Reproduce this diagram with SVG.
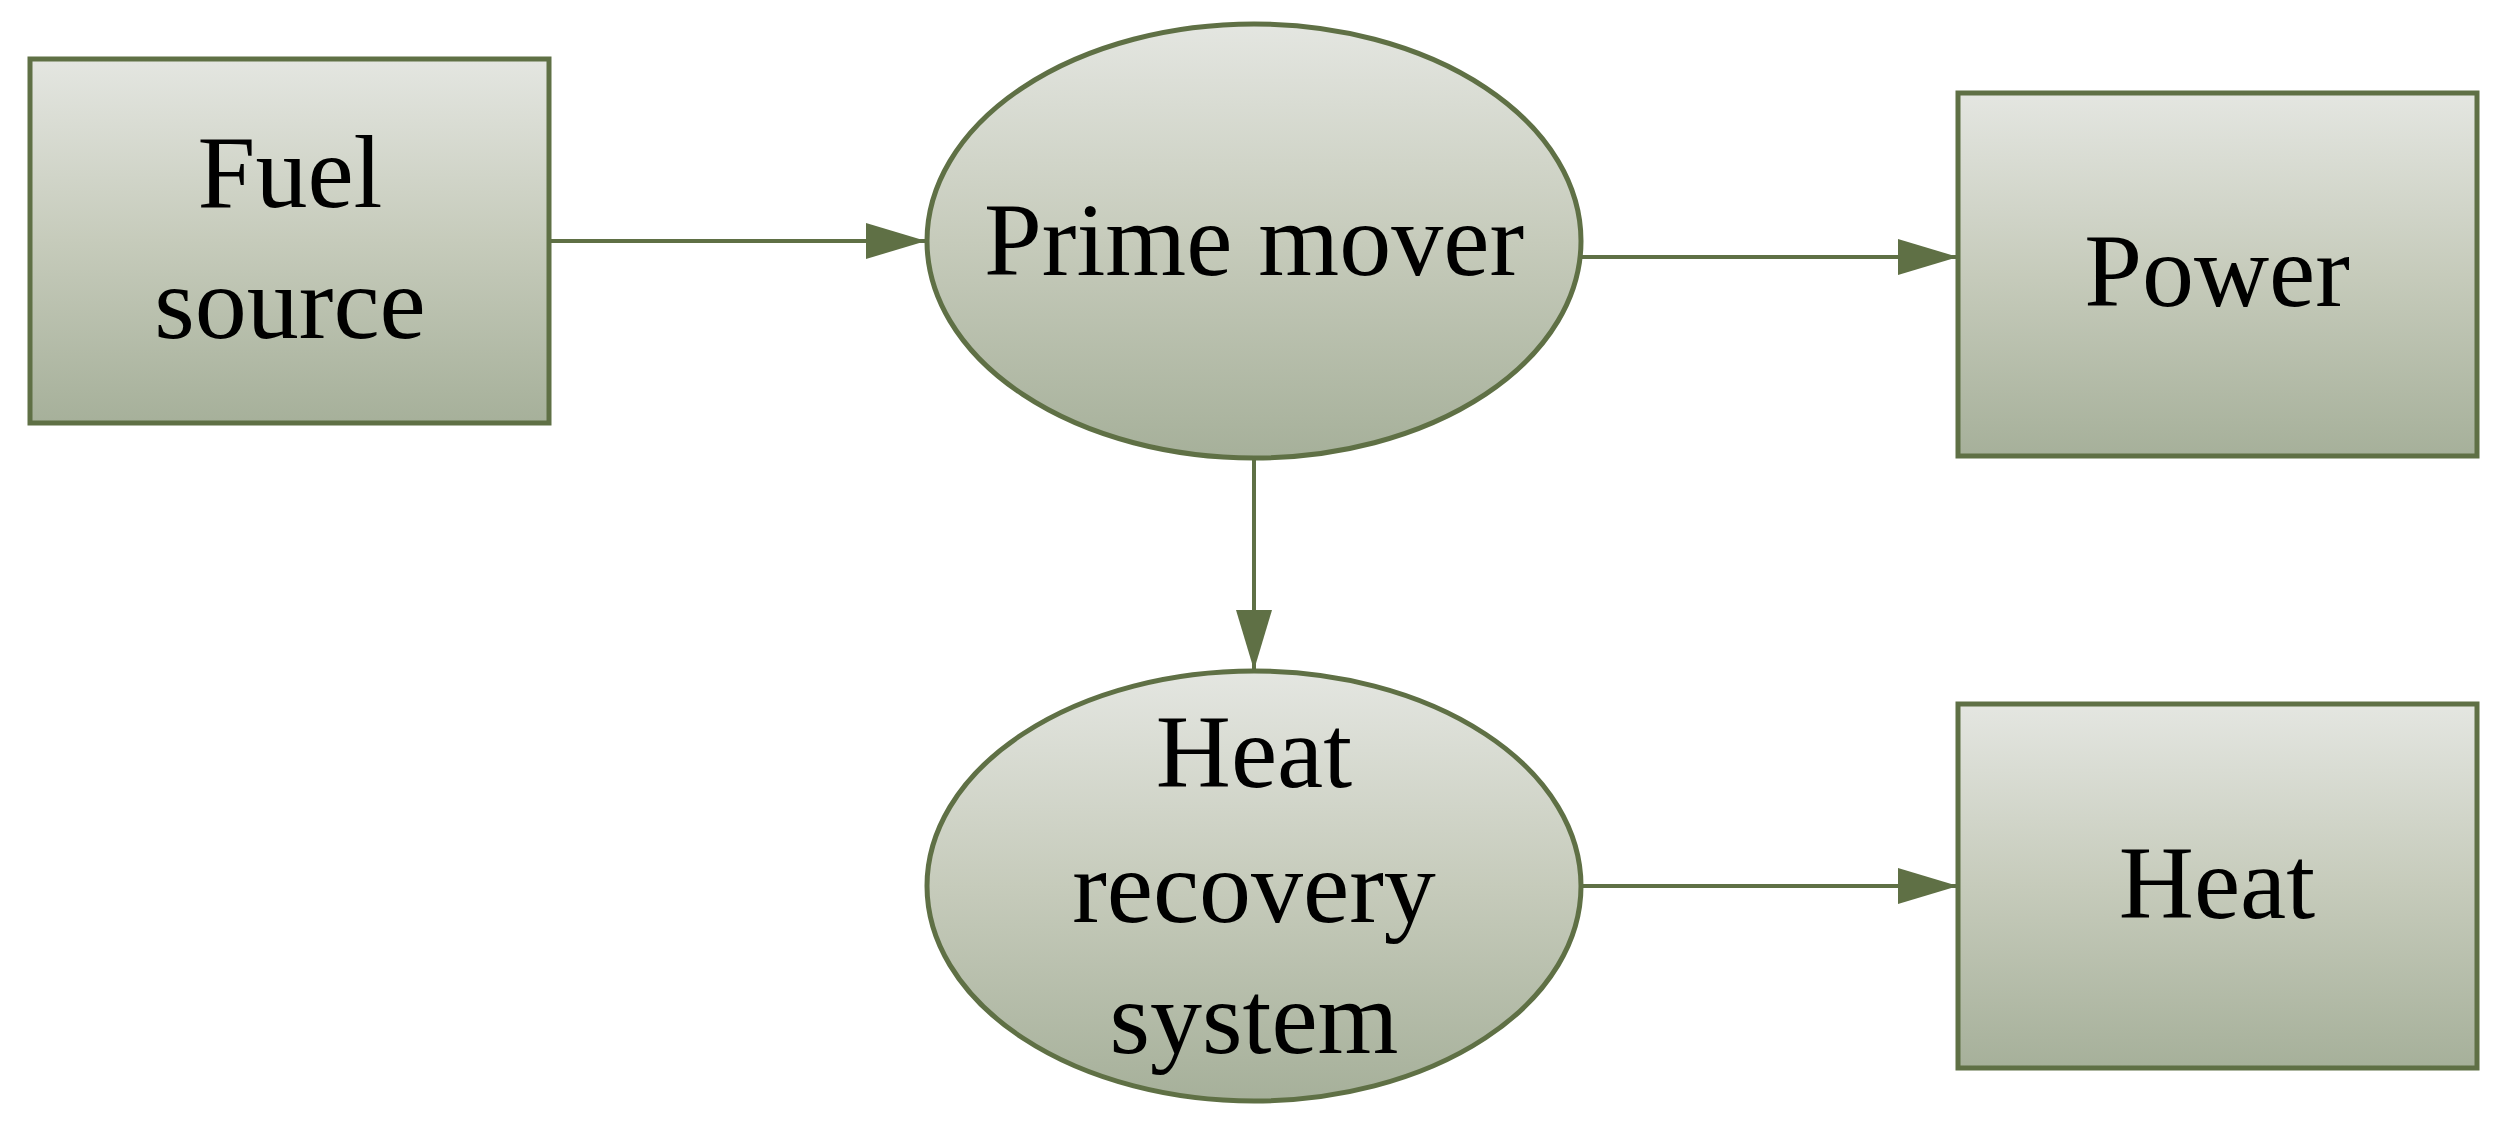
<svg xmlns="http://www.w3.org/2000/svg" width="2502" height="1128" viewBox="0 0 2502 1128">
<defs>
<linearGradient id="g" x1="0" y1="0" x2="0" y2="1">
<stop offset="0" stop-color="#e4e6e1"/>
<stop offset="0.5" stop-color="#c6cbbb"/>
<stop offset="1" stop-color="#a6b09a"/>
</linearGradient>
<marker id="ah" viewBox="0 0 10 10" refX="10" refY="5" markerWidth="10" markerHeight="10" markerUnits="userSpaceOnUse" orient="auto">
<path d="M0,0 L10,5 L0,10 z" fill="#5f7045"/>
</marker>
<marker id="a" viewBox="0 0 60 60" refX="60" refY="30" markerWidth="60" markerHeight="60" markerUnits="userSpaceOnUse" orient="auto">
<path d="M0,12 L60,30 L0,48 z" fill="#5f7045"/>
</marker>
</defs>
<style>
.n{fill:url(#g);stroke:#5f7045;stroke-width:5}
.t{font-family:"Liberation Serif","Times New Roman",serif;font-size:104px;fill:#000;text-anchor:middle}
.c{stroke:#5f7045;stroke-width:4;fill:none;marker-end:url(#a)}
</style>
<rect width="2502" height="1128" fill="#fff"/>
<g id="connectors">
<line class="c" x1="549" y1="241" x2="926" y2="241"/>
<line class="c" x1="1582" y1="257" x2="1958" y2="257"/>
<line class="c" x1="1254" y1="458" x2="1254" y2="670"/>
<line class="c" x1="1582" y1="886" x2="1958" y2="886"/>
</g>
<g id="fuel"><rect class="n" x="30" y="59" width="519" height="364"/>
<text class="t" x="290" y="207">Fuel</text><text class="t" x="290" y="338">source</text></g>
<g id="prime"><ellipse class="n" cx="1254" cy="241" rx="327" ry="217"/>
<text class="t" x="1254" y="275">Prime mover</text></g>
<g id="power"><rect class="n" x="1958" y="93" width="519" height="363"/>
<text class="t" x="2217" y="306">Power</text></g>
<g id="hrs"><ellipse class="n" cx="1254" cy="886" rx="327" ry="215"/>
<text class="t" x="1254" y="787">Heat</text><text class="t" x="1254" y="922">recovery</text><text class="t" x="1254" y="1053">system</text></g>
<g id="heat"><rect class="n" x="1958" y="704" width="519" height="364"/>
<text class="t" x="2217" y="918">Heat</text></g>
</svg>
